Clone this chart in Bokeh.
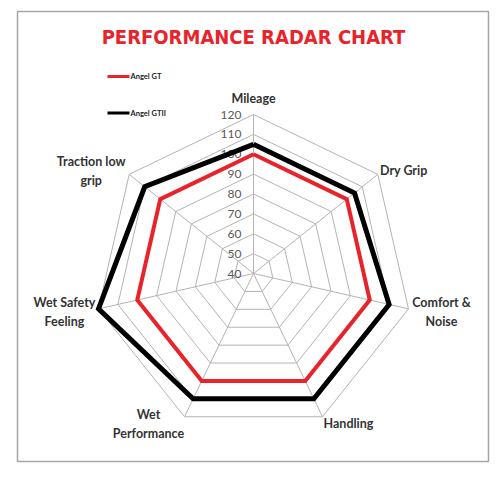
import numpy as np
from bokeh.plotting import figure
from bokeh.models import Range1d
from bokeh.core.properties import value
from bokeh.embed import file_html
from bokeh.resources import INLINE

# data
categories = ["Mileage", "Dry Grip", "Comfort &\nNoise", "Handling",
              "Wet\nPerformance", "Wet Safety\nFeeling", "Traction low\ngrip"]
angel_gt = [100, 100, 100, 100, 100, 100, 100]
angel_gtii = [105, 105, 110, 110, 110, 120, 110]
ticks = [40, 50, 60, 70, 80, 90, 100, 110, 120]
series_names = ["Angel GT", "Angel GTII"]

RMIN, RMAX = ticks[0], ticks[-1]
S = 1.9875            # px per value unit
CX, CY = 253, 273      # picture position of the centre
OX, OY = 0, 0          # where the canvas lands in the picture
W, H = 496, 470

n = len(categories)
ang = np.pi / 2 - np.arange(n) * 2 * np.pi / n


def polar(vals):
    r = np.asarray(vals, dtype=float) - RMIN
    return list(r * np.cos(ang)) + [r[0] * np.cos(ang[0])], \
        list(r * np.sin(ang)) + [r[0] * np.sin(ang[0])]


def px(x, y):
    # picture pixel -> data
    return (x - CX) / S, (CY - y) / S


p = figure(width=W, height=H, output_backend="svg", toolbar_location=None,
           x_range=Range1d((OX - CX) / S, (OX + W - CX) / S),
           y_range=Range1d((CY - OY - H) / S, (CY - OY) / S),
           min_border=0)
p.axis.visible = False
p.grid.visible = False
p.outline_line_color = None
p.background_fill_color = "white"

# frame
l, t = px(17, 11)
r, b = px(488, 461)
p.quad(left=l, right=r, top=t, bottom=b, fill_color=None,
       line_color="#a6a6a6", line_width=1.5)

# rings + spokes
for tk in ticks[1:]:
    xs, ys = polar([tk] * n)
    p.line(xs, ys, line_color="#b4b4b4", line_width=1)
ox, oy = polar([RMAX] * n)
p.multi_line([[0, x] for x in ox[:-1]], [[0, y] for y in oy[:-1]],
             line_color="#b4b4b4", line_width=1)

# tick labels along the top spoke (under the series lines)
p.text([0] * len(ticks), [tk - RMIN for tk in ticks], text=[str(tk) for tk in ticks],
       x_offset=-12, text_align="right", text_baseline="middle",
       text_font=value("Lato"), text_font_size="12px", text_color="#595959")

# series
xs, ys = polar(angel_gtii)
p.line(xs, ys, line_color="black", line_width=5, line_join="miter")
xs, ys = polar(angel_gt)
p.line(xs, ys, line_color="#e8232a", line_width=4, line_join="miter")

# category labels
offs = [(0, -16), (26, -4), (33, 3), (26, 7), (-36, 7), (-34, 3), (-38, -3)]
p.text(ox[:-1], oy[:-1], text=categories,
       x_offset=[o[0] for o in offs], y_offset=[o[1] for o in offs],
       text_align="center", text_baseline="middle", text_line_height=1.25,
       text_font=value("Lato"), text_font_style="bold",
       text_font_size="12.5px", text_color="#333333")

# legend
for name, col, yy in zip(series_names, ["#e8232a", "black"], [76, 112.5]):
    x0, y0 = px(107, yy)
    x1, _ = px(129, yy)
    p.line([x0, x1], [y0, y0], line_color=col, line_width=3)
    p.text([x1], [y0], text=[name], x_offset=1, text_baseline="middle",
           text_font=value("Lato"), text_font_style="bold",
           text_font_size="7.5px", text_color="#222222")

# title
tx, ty = px(253, 36)
p.text([tx], [ty], text=["PERFORMANCE RADAR CHART"], text_align="center",
       text_baseline="middle", text_font=value("DejaVu Sans Condensed, Roboto, sans-serif"),
       text_font_style="bold", text_font_size="20px", text_color="#e8232a")

open("out.html", "w").write(file_html(p, INLINE))
